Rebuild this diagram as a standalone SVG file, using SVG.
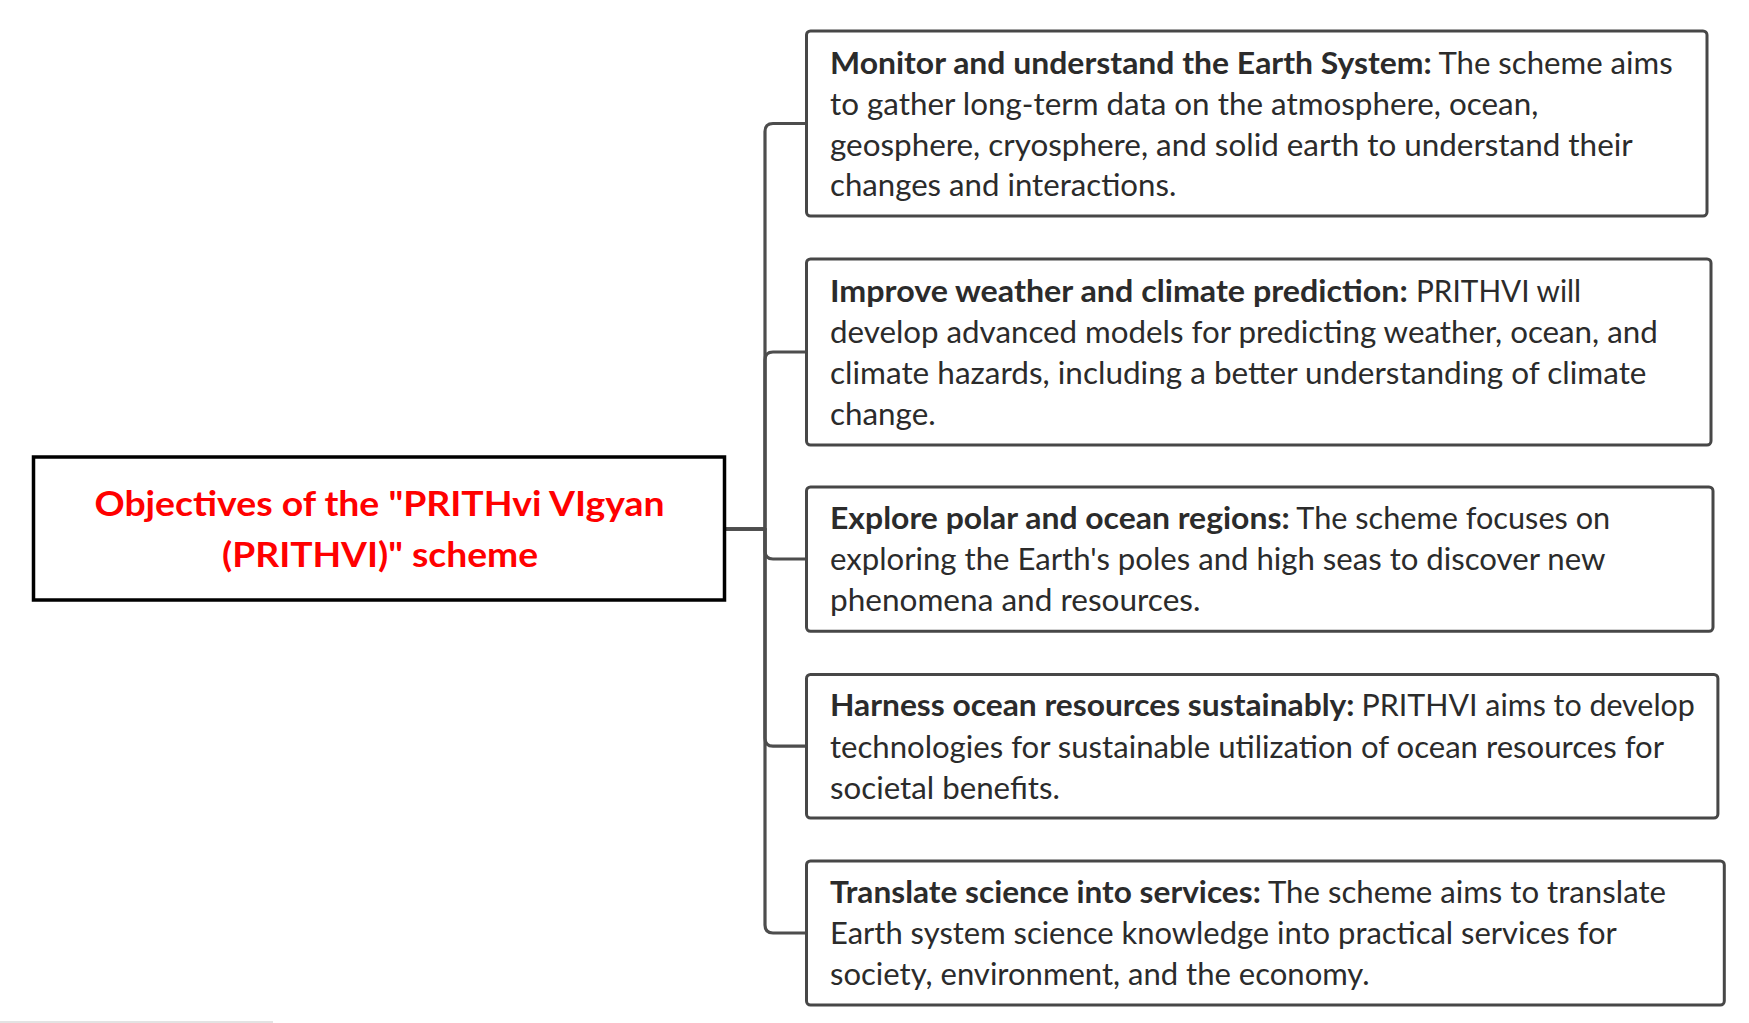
<svg xmlns="http://www.w3.org/2000/svg" width="1749" height="1023" viewBox="0 0 1749 1023">
<style>
.box{fill:#ffffff;stroke:#474747;stroke-width:3}
.root{fill:#ffffff;stroke:#000000;stroke-width:3.5}
.conn{fill:none;stroke:#4d4d4d;stroke-width:3.2;stroke-linejoin:round}
.t{font-family:Lato,"Open Sans","Liberation Sans",sans-serif;font-size:30px;fill:#2b2b2b}
.b{font-weight:bold}
.title{font-family:Lato,"Open Sans","Liberation Sans",sans-serif;font-size:35px;font-weight:bold;fill:#ff0000;text-anchor:middle}
</style>
<rect x="0" y="1021" width="273" height="2" fill="#e3e3e3"/>
<g id="connectors">
<path class="conn" d="M724 529 H765 V131.5 Q765 123.5 773 123.5 H806"/>
<path class="conn" d="M724 529 H765 V360 Q765 352 773 352 H806"/>
<path class="conn" d="M724 529 H765 V551 Q765 559 773 559 H806"/>
<path class="conn" d="M724 529 H765 V738.2 Q765 746.2 773 746.2 H806"/>
<path class="conn" d="M724 529 H765 V925 Q765 933 773 933 H806"/>
</g>
<g id="root">
<rect class="root" x="33.5" y="457" width="691" height="143"/>
<text class="title" x="379.5" y="516" textLength="570" lengthAdjust="spacingAndGlyphs">Objectives of the "PRITHvi VIgyan</text>
<text class="title" x="380" y="566.5" textLength="316" lengthAdjust="spacingAndGlyphs">(PRITHVI)" scheme</text>
</g>
<g id="node1">
<rect class="box" x="806.5" y="31" width="900.5" height="185" rx="4"/>
<text class="t b" x="830" y="73.5" textLength="601.8" lengthAdjust="spacingAndGlyphs">Monitor and understand the Earth System:</text>
<text class="t" x="1438.4" y="73.5" textLength="234.3" lengthAdjust="spacingAndGlyphs">The scheme aims</text>
<text class="t" x="830" y="114.5" textLength="708.3" lengthAdjust="spacingAndGlyphs">to gather long-term data on the atmosphere, ocean,</text>
<text class="t" x="830" y="155.5" textLength="802.7" lengthAdjust="spacingAndGlyphs">geosphere, cryosphere, and solid earth to understand their</text>
<text class="t" x="830" y="196.3" textLength="346.3" lengthAdjust="spacingAndGlyphs">changes and interactions.</text>
</g>
<g id="node2">
<rect class="box" x="806.5" y="259" width="904.5" height="186" rx="4"/>
<text class="t b" x="830" y="301.5" textLength="577.7" lengthAdjust="spacingAndGlyphs">Improve weather and climate prediction:</text>
<text class="t" x="1416" y="301.5" textLength="165.1" lengthAdjust="spacingAndGlyphs">PRITHVI will</text>
<text class="t" x="830" y="342.7" textLength="827.7" lengthAdjust="spacingAndGlyphs">develop advanced models for predicting weather, ocean, and</text>
<text class="t" x="830" y="383.8" textLength="816.5" lengthAdjust="spacingAndGlyphs">climate hazards, including a better understanding of climate</text>
<text class="t" x="830" y="424.9" textLength="105.6" lengthAdjust="spacingAndGlyphs">change.</text>
</g>
<g id="node3">
<rect class="box" x="806.5" y="487" width="906.5" height="144.3" rx="4"/>
<text class="t b" x="830" y="529.3" textLength="459.7" lengthAdjust="spacingAndGlyphs">Explore polar and ocean regions:</text>
<text class="t" x="1296.3" y="529.3" textLength="313.9" lengthAdjust="spacingAndGlyphs">The scheme focuses on</text>
<text class="t" x="830" y="570.4" textLength="775.4" lengthAdjust="spacingAndGlyphs">exploring the Earth's poles and high seas to discover new</text>
<text class="t" x="830" y="611.4" textLength="370.4" lengthAdjust="spacingAndGlyphs">phenomena and resources.</text>
</g>
<g id="node4">
<rect class="box" x="806.5" y="674.4" width="911.4" height="143.6" rx="4"/>
<text class="t b" x="830" y="716.4" textLength="524.5" lengthAdjust="spacingAndGlyphs">Harness ocean resources sustainably:</text>
<text class="t" x="1361.6" y="716.4" textLength="333.2" lengthAdjust="spacingAndGlyphs">PRITHVI aims to develop</text>
<text class="t" x="830" y="757.6" textLength="834" lengthAdjust="spacingAndGlyphs">technologies for sustainable utilization of ocean resources for</text>
<text class="t" x="830" y="798.7" textLength="229.9" lengthAdjust="spacingAndGlyphs">societal benefits.</text>
</g>
<g id="node5">
<rect class="box" x="806.5" y="861" width="917.8" height="144" rx="4"/>
<text class="t b" x="830" y="902.6" textLength="430.8" lengthAdjust="spacingAndGlyphs">Translate science into services:</text>
<text class="t" x="1267.9" y="902.6" textLength="398.1" lengthAdjust="spacingAndGlyphs">The scheme aims to translate</text>
<text class="t" x="830" y="943.6" textLength="786.7" lengthAdjust="spacingAndGlyphs">Earth system science knowledge into practical services for</text>
<text class="t" x="830" y="984.6" textLength="539.6" lengthAdjust="spacingAndGlyphs">society, environment, and the economy.</text>
</g>
</svg>
